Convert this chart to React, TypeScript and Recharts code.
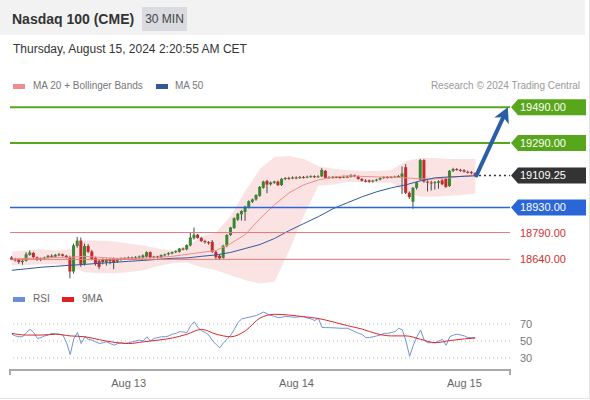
import React from "react";
import { ComposedChart, Bar, Line, Area, XAxis, YAxis, ReferenceLine } from "recharts";

const FONT = '"Liberation Sans", Arial, sans-serif';

// 30-minute bars, Aug 12 morning -> Aug 15 02:00 CET
const OPEN = [
  18650, 18640, 18638, 18625, 18632, 18665, 18676, 18652, 18638, 18645,
  18650, 18660, 18655, 18665, 18668, 18660, 18652, 18572, 18715, 18745,
  18615, 18715, 18684, 18648, 18632, 18638, 18625, 18640, 18645, 18628,
  18640, 18645, 18648, 18650, 18645, 18652, 18650, 18655, 18680, 18650,
  18656, 18652, 18662, 18668, 18672, 18680, 18682, 18700, 18696, 18718,
  18758, 18778, 18760, 18742, 18736, 18738, 18682, 18660, 18648, 18716,
  18776, 18815, 18862, 18892, 18905, 18932, 18962, 18975, 18995, 19040,
  19078, 19060, 19068, 19075, 19055, 19090, 19095, 19092, 19098, 19095,
  19100, 19098, 19100, 19105, 19100, 19104, 19135, 19096, 19100, 19098,
  19100, 19097, 19102, 19100, 19110, 19104, 19090, 19080, 19082, 19074,
  19080, 19086, 19095, 19100, 19097, 19100, 19100, 19102, 19155, 19012,
  18962, 19040, 19085, 19195, 19075, 19070, 19066, 19068, 19082, 19090,
  19050, 19135, 19145, 19140, 19138, 19130, 19128, 19122,
];
const HIGH = [
  18658, 18648, 18645, 18640, 18680, 18690, 18682, 18656, 18650, 18655,
  18665, 18668, 18670, 18675, 18672, 18665, 18660, 18728, 18765, 18762,
  18728, 18725, 18692, 18655, 18640, 18645, 18645, 18648, 18650, 18645,
  18650, 18652, 18656, 18655, 18658, 18662, 18668, 18685, 18684, 18660,
  18660, 18668, 18672, 18680, 18684, 18690, 18704, 18706, 18724, 18790,
  18818, 18782, 18765, 18750, 18742, 18748, 18690, 18668, 18722, 18782,
  18822, 18875, 18900, 18915, 18940, 18970, 18980, 19004, 19050, 19080,
  19085, 19075, 19080, 19080, 19095, 19100, 19102, 19104, 19104, 19106,
  19106, 19108, 19110, 19110, 19110, 19150, 19140, 19105, 19106, 19106,
  19105, 19108, 19108, 19116, 19114, 19108, 19094, 19088, 19086, 19085,
  19090, 19098, 19104, 19106, 19106, 19108, 19112, 19160, 19173, 19020,
  19045, 19075, 19201, 19200, 19082, 19080, 19078, 19082, 19090, 19095,
  19140, 19152, 19150, 19146, 19144, 19136, 19134, 19126,
];
const LOW = [
  18635, 18628, 18615, 18610, 18628, 18660, 18648, 18632, 18630, 18640,
  18645, 18650, 18650, 18658, 18655, 18645, 18534, 18560, 18705, 18598,
  18605, 18675, 18635, 18605, 18585, 18612, 18605, 18612, 18585, 18620,
  18632, 18638, 18640, 18638, 18640, 18645, 18645, 18650, 18645, 18645,
  18645, 18648, 18656, 18662, 18668, 18675, 18678, 18690, 18690, 18712,
  18750, 18755, 18738, 18728, 18722, 18676, 18640, 18636, 18644, 18708,
  18770, 18810, 18855, 18857, 18855, 18925, 18955, 18968, 18990, 19035,
  19010, 19052, 19062, 19050, 19050, 19082, 19085, 19088, 19088, 19090,
  19092, 19094, 19096, 19095, 19096, 19100, 19090, 19090, 19092, 19094,
  19092, 19094, 19096, 19098, 19100, 19085, 19075, 19070, 19068, 19070,
  19076, 19082, 19090, 19092, 19094, 19096, 19096, 19005, 19005, 18978,
  18923, 19030, 19080, 19068, 19020, 19025, 19030, 19035, 19055, 19040,
  19045, 19128, 19135, 19130, 19125, 19120, 19115, 19104,
];
const CLOSE = [
  18640, 18635, 18625, 18632, 18668, 18678, 18652, 18638, 18645, 18650,
  18660, 18655, 18665, 18668, 18660, 18650, 18572, 18718, 18745, 18612,
  18715, 18682, 18642, 18615, 18598, 18625, 18640, 18630, 18622, 18640,
  18645, 18648, 18650, 18645, 18652, 18656, 18662, 18680, 18650, 18656,
  18650, 18664, 18668, 18675, 18680, 18686, 18700, 18697, 18720, 18762,
  18778, 18760, 18742, 18736, 18730, 18682, 18652, 18646, 18716, 18776,
  18818, 18870, 18895, 18910, 18935, 18965, 18975, 19000, 19045, 19075,
  19058, 19070, 19075, 19055, 19090, 19095, 19092, 19098, 19095, 19100,
  19098, 19102, 19105, 19100, 19104, 19140, 19096, 19100, 19098, 19100,
  19097, 19102, 19100, 19110, 19104, 19090, 19080, 19076, 19074, 19080,
  19086, 19095, 19100, 19097, 19100, 19103, 19106, 19120, 19012, 18988,
  19040, 19070, 19195, 19075, 19070, 19066, 19072, 19076, 19060, 19045,
  19135, 19145, 19140, 19138, 19130, 19128, 19122, 19109.25,
];
const RSI = [
  58, 56, 55, 55, 60, 63.7, 60, 53, 54, 56,
  57, 59, 58.5, 58, 57, 48, 34, 53, 60, 47,
  55, 52, 51, 49, 47, 48, 49, 47, 45, 47,
  48, 47, 48, 49, 50, 51, 50, 55, 50, 53,
  54, 55, 55, 56, 58, 59, 61, 60.5, 60, 68,
  72.7, 65.7, 62, 60, 57, 50, 46, 42, 48, 52,
  57, 64, 72, 76, 77, 78, 79, 80, 82, 84,
  82, 80, 79, 77.4, 78, 79, 78.6, 78, 78, 78.6,
  78.6, 77, 76, 74, 76.7, 66, 65.7, 65.7, 65.5, 65.3,
  65, 65, 65, 63, 61, 59, 57.8, 54, 54, 55,
  56, 57, 59, 59, 60, 61, 65, 63, 50, 32,
  45, 55, 63, 51, 48, 48, 48, 50, 52, 45,
  55, 57, 58, 57, 56, 54, 54, 54,
];

// indicators read every 4th bar (plus the last one)
const SAMPLE_BARS = [0, 4, 8, 12, 16, 20, 24, 28, 32, 36, 40, 44, 48, 52, 56, 60, 64, 68, 72, 76, 80, 84, 88, 92, 96, 100, 104, 108, 112, 116, 120, 124, 127];
const MA20 = [18640, 18646, 18646, 18651, 18651, 18657, 18651, 18646, 18646, 18646, 18651, 18657, 18668, 18679, 18690, 18729, 18779, 18868, 18946, 19012, 19057, 19084, 19101, 19107, 19104, 19101, 19101, 19096, 19090, 19090, 19096, 19107, 19110];
const MA50 = [18579, 18587, 18596, 18601, 18607, 18612, 18618, 18623, 18629, 18634, 18640, 18646, 18648, 18657, 18665, 18679, 18701, 18723, 18757, 18801, 18840, 18879, 18923, 18957, 18990, 19018, 19040, 19057, 19079, 19096, 19101, 19104, 19107];
const BB_UPPER = [18684, 18690, 18696, 18690, 18696, 18746, 18746, 18740, 18729, 18718, 18701, 18690, 18712, 18768, 18790, 18884, 19023, 19146, 19212, 19218, 19201, 19162, 19146, 19140, 19134, 19134, 19140, 19190, 19207, 19207, 19201, 19201, 19201];
const BB_LOWER = [18607, 18607, 18612, 18612, 18601, 18568, 18562, 18562, 18568, 18579, 18601, 18618, 18623, 18596, 18579, 18551, 18523, 18505, 18515, 18690, 18884, 19051, 19057, 19073, 19073, 19068, 19068, 19012, 18990, 18990, 18996, 19001, 19007];
const RSI_MA = [59, 57, 57, 58, 56, 55, 51.5, 48.5, 47, 49, 51, 53.5, 58, 63.7, 58, 55, 62, 77, 81.4, 80.5, 78.6, 76.5, 72.5, 68, 64, 58.5, 56, 56, 52, 48, 50.5, 52.5, 53.5];

const DAY_TICKS = [32, 78, 124];
const DAY_LABELS = ["Aug 13", "Aug 14", "Aug 15"];
const RSI_LEVELS = [30, 50, 70];

const LAST_PRICE = 19109.25;
const RESISTANCES = [19490, 19290];
const PIVOT = 18930;
const SUPPORTS = [18790, 18640];

const GREEN = "#58a61b";
const BLUE = "#2b66d8";
const UP = "#3a8631";
const DOWN = "#c42b2b";

const bars = OPEN.map((o, i) => ({
  i,
  o,
  h: HIGH[i],
  l: LOW[i],
  c: CLOSE[i],
  range: [LOW[i], HIGH[i]],
  rsi: RSI[i],
}));

const sampled = SAMPLE_BARS.map((b, k) => ({
  i: b,
  ma20: MA20[k],
  ma50: MA50[k],
  band: [BB_LOWER[k], BB_UPPER[k]],
  rsiMa: RSI_MA[k],
}));

function Candle(props: any) {
  const { x, y, width, height, payload } = props;
  if (!payload || x == null) return null;
  const { o, h, l, c } = payload;
  const top = Math.min(y, y + height);
  const span = Math.abs(height);
  const k = h > l ? span / (h - l) : 0;
  const cx = x + width / 2;
  const bodyTop = top + (h - Math.max(o, c)) * k;
  const bodyH = Math.max(1, Math.abs(o - c) * k);
  const color = c >= o ? UP : DOWN;
  return (
    <g>
      <line x1={cx} x2={cx} y1={top} y2={top + span} stroke="#4a4a4a" strokeWidth={1} />
      <rect x={x} y={bodyTop} width={width} height={bodyH} fill={color} />
    </g>
  );
}

function priceTag(viewBox: any, text: string, bg: string | null, fg: string) {
  const xr = viewBox.x + viewBox.width;
  const y = viewBox.y;
  if (!bg) {
    return (
      <text x={xr + 10} y={y + 4} fontSize={11} fill={fg} fontFamily={FONT}>
        {text}
      </text>
    );
  }
  const pts = `${xr + 1},${y} ${xr + 8},${y - 8} ${xr + 76},${y - 8} ${xr + 76},${y + 8} ${xr + 8},${y + 8}`;
  return (
    <g>
      <polygon points={pts} fill={bg} />
      <text x={xr + 10} y={y + 4} fontSize={11} fill={fg} fontFamily={FONT}>
        {text}
      </text>
    </g>
  );
}

function TrendArrow(props: any) {
  const { x1, y1, x2, y2 } = props;
  if (x1 == null) return null;
  const ang = Math.atan2(y2 - y1, x2 - x1);
  const len = 15;
  const half = 8;
  const bx = x2 - Math.cos(ang) * len;
  const by = y2 - Math.sin(ang) * len;
  const nx = x2 - Math.cos(ang) * (len - 4);
  const ny = y2 - Math.sin(ang) * (len - 4);
  const px = -Math.sin(ang) * half;
  const py = Math.cos(ang) * half;
  return (
    <g>
      <line x1={x1} y1={y1} x2={nx} y2={ny} stroke="#2c5ea6" strokeWidth={4} strokeLinecap="round" />
      <polygon points={`${x2},${y2} ${bx + px},${by + py} ${nx},${ny} ${bx - px},${by - py}`} fill="#2c5ea6" />
    </g>
  );
}

function DayTick(props: any) {
  const { x, y, payload } = props;
  const k = DAY_TICKS.indexOf(payload.value);
  if (k < 0) {
    return <line x1={x} x2={x} y1={y - 1} y2={y + 5} stroke="#aaa" strokeWidth={2} />;
  }
  return (
    <text x={x} y={y + 17} textAnchor="middle" fontSize={11} fill="#666" fontFamily={FONT}>
      {DAY_LABELS[k]}
    </text>
  );
}

function RsiTick(props: any) {
  const { y, payload } = props;
  return (
    <text x={520} y={y + 4} fontSize={11} fill="#777" fontFamily={FONT}>
      {payload.value}
    </text>
  );
}

const swatch = (left: number, top: number, color: string) => (
  <div style={{ position: "absolute", left, top, width: 12, height: 5, background: color }} />
);
const note = (left: number, top: number, text: string, color = "#777", size = 10) => (
  <div style={{ position: "absolute", left, top, fontSize: size, color, whiteSpace: "nowrap", lineHeight: "14px" }}>{text}</div>
);

export default function App() {
  return (
    <div
      style={{
        position: "absolute",
        left: 0,
        top: 0,
        width: 589,
        height: 398,
        background: "#fff",
        borderRight: "1px solid #e4e4e4",
        borderBottom: "1px solid #e4e4e4",
        fontFamily: FONT,
        overflow: "hidden",
      }}
    >
      <div style={{ position: "absolute", left: 0, top: 0, width: 585, height: 35, background: "#f2f2f2" }} />
      <div style={{ position: "absolute", left: 12, top: 10, fontSize: 14, fontWeight: "bold", color: "#333", lineHeight: "18px" }}>
        Nasdaq 100 (CME)
      </div>
      <div
        style={{
          position: "absolute",
          left: 142,
          top: 7,
          width: 45,
          height: 24,
          background: "#d9dbe1",
          color: "#444",
          fontSize: 12,
          lineHeight: "24px",
          textAlign: "center",
        }}
      >
        30 MIN
      </div>
      {note(13, 42, "Thursday, August 15, 2024 2:20:55 AM CET", "#333", 12)}

      {swatch(13, 84, "#f08c8c")}
      {note(33, 79, "MA 20 + Bollinger Bands")}
      {swatch(156, 84, "#34589a")}
      {note(175, 79, "MA 50")}
      <div style={{ position: "absolute", right: 9, top: 79, fontSize: 10, color: "#999", lineHeight: "14px" }}>
        Research © 2024 Trading Central
      </div>

      <div style={{ position: "absolute", left: 0, top: 0 }}>
        <ComposedChart width={590} height={290} data={bars} margin={{ top: 96.6, right: 80, bottom: 5.6, left: 10 }}>
          <XAxis dataKey="i" type="number" domain={[-0.5, 136.5]} hide />
          <YAxis type="number" domain={[18500, 19550]} hide allowDataOverflow />
          <Area data={sampled} dataKey="band" type="linear" stroke="none" fill="#f9cccc" fillOpacity={0.55} isAnimationActive={false} />
          <Line data={sampled} dataKey="ma20" type="linear" stroke="#f08c8c" strokeWidth={1} dot={false} isAnimationActive={false} />
          <Line data={sampled} dataKey="ma50" type="linear" stroke="#34589a" strokeWidth={1} dot={false} isAnimationActive={false} />
          {SUPPORTS.map((s) => (
            <ReferenceLine key={s} y={s} stroke="#e07a7a" strokeWidth={1}
              label={(p: any) => priceTag(p.viewBox, s.toFixed(2), null, "#d32f2f")} />
          ))}
          <ReferenceLine y={PIVOT} stroke={BLUE} strokeWidth={1.5}
            label={(p: any) => priceTag(p.viewBox, PIVOT.toFixed(2), BLUE, "#fff")} />
          {RESISTANCES.map((r) => (
            <ReferenceLine key={r} y={r} stroke={GREEN} strokeWidth={2}
              label={(p: any) => priceTag(p.viewBox, r.toFixed(2), GREEN, "#fff")} />
          ))}
          <Bar dataKey="range" barSize={3} shape={Candle} isAnimationActive={false} />
          <ReferenceLine
            segment={[{ x: 128, y: LAST_PRICE }, { x: 136.5, y: LAST_PRICE }]}
            stroke="#333"
            strokeWidth={1.5}
            strokeDasharray="2 3"
            label={(p: any) => priceTag(p.viewBox, LAST_PRICE.toFixed(2), "#333", "#fff")}
          />
          <ReferenceLine
            segment={[{ x: 127.3, y: LAST_PRICE }, { x: 135.9, y: RESISTANCES[0] }]}
            shape={TrendArrow}
          />
        </ComposedChart>
      </div>

      {swatch(13, 297, "#6b8fd6")}
      {note(33, 292, "RSI", "#666")}
      {swatch(62, 297, "#e02020")}
      {note(82, 292, "9MA", "#666")}

      <div style={{ position: "absolute", left: 0, top: 290 }}>
        <ComposedChart width={590} height={110} data={bars} margin={{ top: 20.4, right: 0, bottom: 0.1, left: 10 }}>
          <XAxis
            dataKey="i"
            type="number"
            domain={[-0.5, 136.5]}
            ticks={[-0.5, ...DAY_TICKS, 136.5]}
            interval={0}
            tickLine={false}
            tickSize={0}
            tickMargin={0}
            height={30}
            axisLine={{ stroke: "#aaa", strokeWidth: 2 }}
            tick={DayTick}
          />
          <YAxis
            orientation="right"
            type="number"
            domain={[16, 86]}
            ticks={RSI_LEVELS}
            interval={0}
            width={80}
            axisLine={false}
            tickLine={false}
            tick={RsiTick}
          />
          {RSI_LEVELS.map((v) => (
            <ReferenceLine key={v} y={v} stroke="#bdbdbd" strokeDasharray="1 3" />
          ))}
          <Line dataKey="rsi" type="linear" stroke="#7393d8" strokeWidth={1} dot={false} isAnimationActive={false} />
          <Line data={sampled} dataKey="rsiMa" type="monotone" stroke="#d92a2a" strokeWidth={1} dot={false} isAnimationActive={false} />
        </ComposedChart>
      </div>
    </div>
  );
}
